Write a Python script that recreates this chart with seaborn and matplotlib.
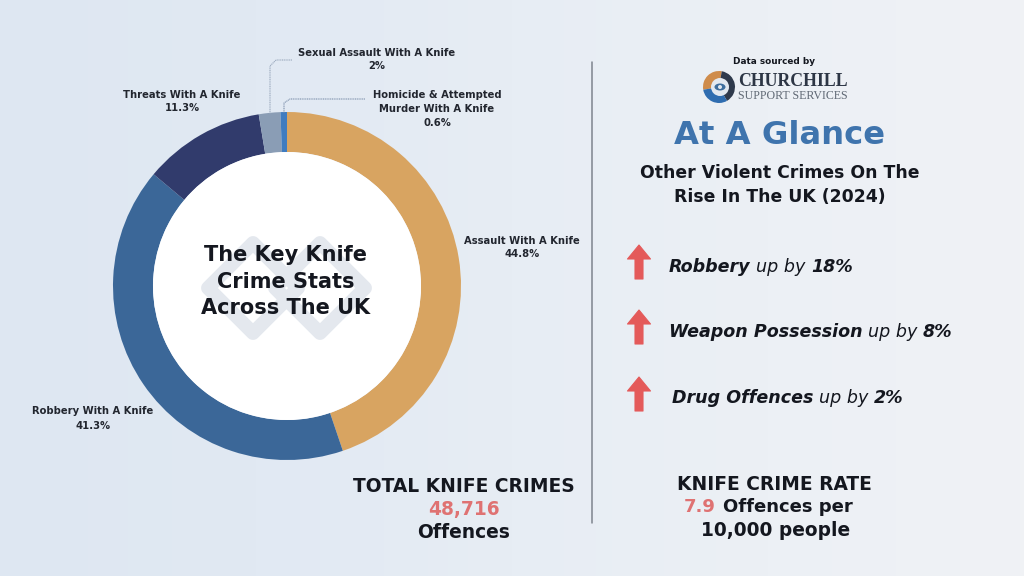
import numpy as np
import seaborn as sns
import matplotlib.pyplot as plt
from matplotlib.patches import Circle, Wedge, Polygon, Ellipse
from matplotlib.colors import LinearSegmentedColormap

crime_types = ["Assault With A Knife", "Robbery With A Knife", "Threats With A Knife",
               "Sexual Assault With A Knife", "Homicide & Attempted\nMurder With A Knife"]
crime_shares = [44.8, 41.3, 11.3, 2, 0.6]
share_labels = ["44.8%", "41.3%", "11.3%", "2%", "0.6%"]
crime_colors = ["#d8a461", "#3b6798", "#313b6c", "#8a9db5", "#3f7cc0"]

rising_crimes = ["Robbery", "Weapon Possession", "Drug Offences"]
rising_amounts = ["18%", "8%", "2%"]

sns.set_theme(style="white")
plt.rcParams['font.family'] = ['DejaVu Sans']

DARK = "#14171f"
RED = "#e45a5a"
SOFT_RED = "#df7272"
fig = plt.figure(figsize=(10.24, 5.76), dpi=100)

# background, everything else is placed in image pixels
bg = fig.add_axes([0, 0, 1, 1])
bg.set_xlim(0, 1024)
bg.set_ylim(576, 0)
bg.axis("off")
cmap = LinearSegmentedColormap.from_list("bg", ["#dee7f2", "#e1e9f3", "#e7edf4", "#ecf0f5", "#f0f2f5"])
grad = np.linspace(0, 1, 256).reshape(1, -1)
bg.imshow(grad, extent=(0, 1024, 576, 0), cmap=cmap, aspect="auto")

# donut
pie_ax = fig.add_axes([113 / 1024, 1 - 460 / 576, 348 / 1024, 348 / 576])
pie_ax.pie(crime_shares, colors=crime_colors, startangle=90, counterclock=False,
           radius=1, wedgeprops=dict(width=1 - 134 / 174, linewidth=0))
pie_ax.set_xlim(-1, 1)
pie_ax.set_ylim(-1, 1)

top = fig.add_axes([0, 0, 1, 1])
top.set_xlim(0, 1024)
top.set_ylim(576, 0)
top.axis("off")
top.patch.set_alpha(0)

top.add_patch(Circle((287, 286), 134, fc="white", ec="none"))


def parts_in_row(x, y, parts, gap=5, **kw):
    # lay out differently styled pieces of one line from the left
    for txt, style in parts:
        t = top.text(x, y, txt, ha="left", va="center", **{**kw, **style})
        fig.canvas.draw()
        # window pixels match the axes units here
        x = t.get_window_extent().x1 + gap


# faint logo behind the centre title
for cx in (253, 320):
    top.add_patch(Polygon([(cx, 243), (cx + 45, 288), (cx, 333), (cx - 45, 288)], closed=True,
                          fc="none", ec="#e4e8ee", lw=10, joinstyle="round"))

top.text(286, 281.5, "The Key Knife\nCrime Stats\nAcross The UK", ha="center", va="center",
         fontsize=15, fontweight="bold", color=DARK, linespacing=1.42)

# slice labels
lab = dict(ha="center", va="center", fontsize=7.2, fontweight="bold", color="#22262f")
top.text(182, 94.5, crime_types[2], **lab)
top.text(182, 108, share_labels[2], **lab)
top.text(377, 52.5, crime_types[3], **lab)
top.text(377, 66, share_labels[3], **lab)
top.text(437, 102, crime_types[4], linespacing=1.4, **lab)
top.text(437, 122.5, share_labels[4], **lab)
top.text(522, 240.5, crime_types[0], **lab)
top.text(522, 254, share_labels[0], **lab)
top.text(93, 411, crime_types[1], **lab)
top.text(93, 426, share_labels[1], **lab)

# leader lines
top.plot([292, 276, 270, 270], [60, 60, 66, 114], color="#9aa9bd", lw=0.8, ls=(0, (1, 0.6)))
top.plot([365, 290, 284, 284], [99, 99, 103, 113], color="#7f92ad", lw=0.8, ls=(0, (1, 0.6)))

# divider
top.plot([592, 592], [62, 523], color="#7d848d", lw=1.1)

# totals
big = dict(ha="center", va="center", fontsize=13.4, fontweight="bold")
top.text(464, 486, "TOTAL KNIFE CRIMES", color=DARK, **big)
top.text(464, 509.5, "48,716", color=SOFT_RED, **big)
top.text(464, 532.5, "Offences", color=DARK, **big)

top.text(774, 484, "KNIFE CRIME RATE", color=DARK, **big)
parts_in_row(684, 506.5, [("7.9", dict(color=SOFT_RED)), ("Offences per", dict(color=DARK))],
             gap=7, fontsize=13, fontweight="bold")
top.text(776, 530, "10,000 people", color=DARK, **big)

# source block
top.text(774, 61.5, "Data sourced by", ha="center", va="center", fontsize=6.4, fontweight="bold", color=DARK)
top.add_patch(Wedge((719, 87), 16, 170, 280, fc="#cf8c4b", ec="none"))
top.add_patch(Wedge((719, 87), 16, 280, 60, fc="#2f3a4c", ec="none"))
top.add_patch(Wedge((719, 87), 16, 60, 170, fc="#2f6db0", ec="none"))
top.add_patch(Circle((720, 87), 9, fc="#e3e9f0", ec="none"))
top.add_patch(Ellipse((720, 87), 11, 7, fc="#3f6f9e", ec="none"))
top.add_patch(Circle((720, 87), 2, fc="#e3e9f0", ec="none"))
top.text(738, 81, "CHURCHILL", ha="left", va="center", fontsize=12.8, family="Liberation Serif",
         color="#2d3645", fontweight="bold")
top.text(738, 96, "SUPPORT SERVICES", ha="left", va="center", fontsize=8.6, family="Liberation Serif", color="#5f6874")

top.text(779, 135, "At A Glance", ha="center", va="center", fontsize=23.2, fontweight="bold", color="#3f74ad")
top.text(780, 173, "Other Violent Crimes On The", ha="center", va="center", fontsize=12.4, fontweight="bold", color=DARK)
top.text(780, 197.5, "Rise In The UK (2024)", ha="center", va="center", fontsize=12.4, fontweight="bold", color=DARK)

# rising crimes, each row built up from its parts
row_y = [267, 332, 398]
row_x = [669, 669, 672]
arrow_y = [245, 310, 377]
for crime, amount, y, x, ay in zip(rising_crimes, rising_amounts, row_y, row_x, arrow_y):
    top.add_patch(Polygon([(639, ay), (650.5, ay + 14), (643, ay + 14), (643, ay + 34), (635, ay + 34),
                           (635, ay + 14), (627.5, ay + 14)], closed=True, fc=RED, ec=RED, lw=0.8, joinstyle="round"))
    parts_in_row(x, y, [(crime, dict(fontweight="bold")), ("up by", dict()), (amount, dict(fontweight="bold"))],
                 gap=5.5, fontsize=12.6, style="italic", color=DARK)

fig.savefig("out.png", dpi=100)
